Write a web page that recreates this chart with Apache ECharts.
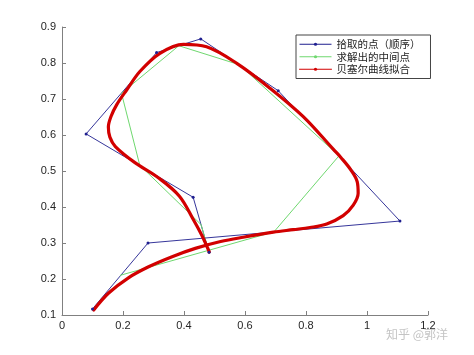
<!DOCTYPE html>
<html lang="zh">
<head>
    <meta charset="UTF-8">
    <title>贝塞尔曲线拟合</title>
    <style>
        html, body { margin: 0; padding: 0; background: #fff; }
    </style>
</head>
<body>
<div id="chart1" style="width:474px; height:355px;"></div>
<script type="text/javascript" src="https://cdn.jsdelivr.net/npm/echarts@6/dist/echarts.min.js"></script>
<script type="text/javascript">
    // 拾取的点（顺序）
    var pickedPts = [
        [0.100, 0.117], [0.282, 0.300], [1.108, 0.361], [0.709, 0.723],
        [0.455, 0.867], [0.310, 0.829], [0.079, 0.603], [0.430, 0.427],
        [0.482, 0.274]
    ];
    // 求解出的中间点
    var midPts = [
        [0.190, 0.210], [0.695, 0.331], [0.908, 0.542], [0.582, 0.795],
        [0.383, 0.848], [0.195, 0.716], [0.255, 0.516], [0.456, 0.351],
        [0.482, 0.274]
    ];
    // 贝塞尔曲线拟合
    var bezierPts = [
        [0.104, 0.114], [0.153, 0.161], [0.219, 0.204], [0.284, 0.234],
        [0.361, 0.262], [0.437, 0.285], [0.520, 0.304], [0.594, 0.316],
        [0.693, 0.330], [0.758, 0.337], [0.813, 0.343], [0.868, 0.353],
        [0.922, 0.376], [0.955, 0.405], [0.971, 0.438], [0.968, 0.470],
        [0.948, 0.502], [0.915, 0.537], [0.890, 0.560], [0.791, 0.651],
        [0.682, 0.730], [0.573, 0.799], [0.474, 0.845], [0.398, 0.852],
        [0.321, 0.827], [0.256, 0.777], [0.212, 0.725], [0.180, 0.685],
        [0.161, 0.652], [0.152, 0.622], [0.157, 0.594], [0.175, 0.568],
        [0.238, 0.524], [0.318, 0.480], [0.385, 0.430], [0.430, 0.366],
        [0.458, 0.322], [0.483, 0.275]
    ];
    var xTicks = [0, 1.2, 0.2];   // min, max, interval
    var yTicks = [0.1, 0.9, 0.1];

    var axisFont = 'Liberation Sans';
    var cjkFont = 'Noto Sans CJK SC';

    var option = {
        animation: false,
        backgroundColor: '#fff',
        grid: { left: 62, right: 46, top: 27, bottom: 40 },
        legend: {
            orient: 'vertical',
            left: 296,
            top: 35,
            padding: [3, 10, 3, 3],
            itemGap: 0,
            itemWidth: 32,
            itemHeight: 4,
            borderColor: '#444',
            borderWidth: 1,
            backgroundColor: '#fff',
            lineStyle: { width: 1 },
            textStyle: { fontFamily: cjkFont, fontSize: 10.5, lineHeight: 12.5, color: '#222' },
            data: ['拾取的点（顺序）', '求解出的中间点', '贝塞尔曲线拟合']
        },
        xAxis: {
            type: 'value',
            min: xTicks[0], max: xTicks[1], interval: xTicks[2],
            splitLine: { show: false },
            axisLine: { show: true, onZero: false, lineStyle: { color: '#808080', width: 1 } },
            axisTick: { show: true, inside: true, length: 4, lineStyle: { color: '#808080' } },
            axisLabel: { color: '#262626', fontFamily: axisFont, fontSize: 11, margin: 5 }
        },
        yAxis: {
            type: 'value',
            min: yTicks[0], max: yTicks[1], interval: yTicks[2],
            splitLine: { show: false },
            axisLine: { show: true, onZero: false, lineStyle: { color: '#808080', width: 1 } },
            axisTick: { show: true, inside: true, length: 4, lineStyle: { color: '#808080' } },
            axisLabel: { color: '#262626', fontFamily: axisFont, fontSize: 11, margin: 6 }
        },
        graphic: [{
            type: 'text',
            left: 386,
            top: 328,
            style: { text: '知乎 @郭洋', fill: '#c4c4c4', font: '12px "Noto Sans CJK SC"' }
        }],
        series: [
            {
                name: '拾取的点（顺序）',
                type: 'line',
                data: pickedPts,
                symbol: 'circle',
                symbolSize: 3,
                lineStyle: { color: '#1f1f8f', width: 0.9 },
                itemStyle: { color: '#1f1f8f' }
            },
            {
                name: '求解出的中间点',
                type: 'line',
                data: midPts,
                symbol: 'circle',
                symbolSize: 2,
                showSymbol: false,
                lineStyle: { color: '#6fd86f', width: 1 },
                itemStyle: { color: '#6fd86f' }
            },
            {
                name: '贝塞尔曲线拟合',
                type: 'line',
                data: bezierPts,
                smooth: 0.35,
                symbol: 'circle',
                symbolSize: 3,
                showSymbol: false,
                lineStyle: { color: '#d20000', width: 3.2, cap: 'round' },
                itemStyle: { color: '#d20000' }
            }
        ]
    };
    var myChart = echarts.init(document.getElementById('chart1'));
    myChart.setOption(option);
</script>
</body>
</html>
